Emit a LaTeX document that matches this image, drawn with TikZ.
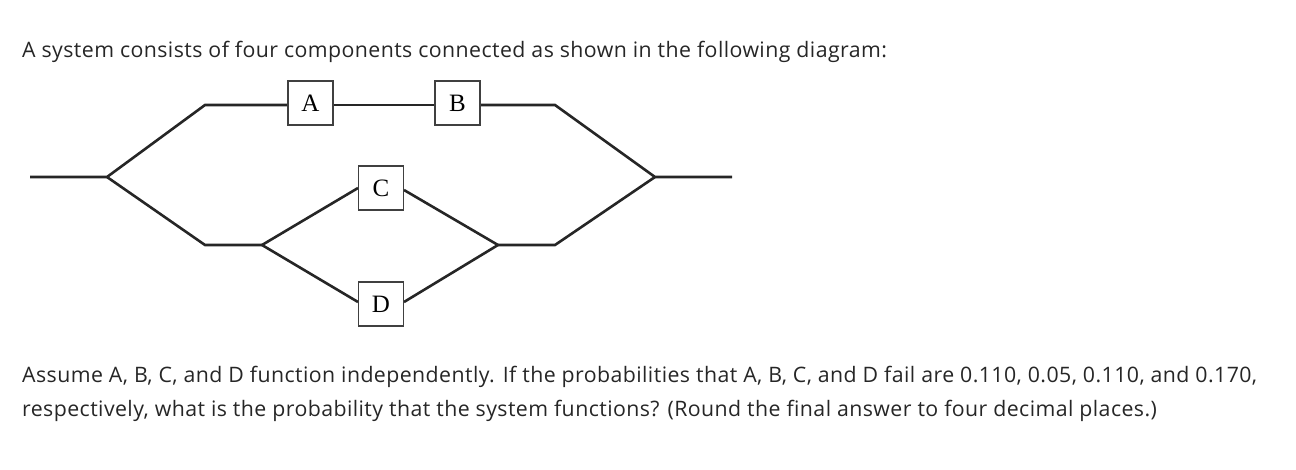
\documentclass[tikz,border=0pt]{standalone}
\usepackage{fontspec}
\setmainfont{Open Sans}[LetterSpace=2,Ligatures=NoCommon]
\newfontfamily\boxfont{Liberation Serif}
\begin{document}
\begin{tikzpicture}[x=1pt,y=-1pt,
  comp/.style={draw=black!75,line width=1.2pt,fill=white,minimum width=45pt,minimum height=44pt,inner sep=0pt,font=\boxfont\fontsize{25}{25}\selectfont},
  wire/.style={line width=2.6pt,black!85},
  txt/.style={anchor=west,inner sep=0pt,font=\fontsize{21.3}{26}\selectfont,text=black!85}]
\useasboundingbox (0,0) rectangle (1296,469);
\node[txt] (t1) at (22,52) {A system consists of four components connected as shown in the following diagram:};
\coordinate (L0) at (30,177);
\coordinate (L1) at (107,177);
\coordinate (U1) at (205,105);
\coordinate (U2) at (555,105);
\coordinate (R1) at (655,177);
\coordinate (R0) at (732,177);
\coordinate (D1) at (205,245);
\coordinate (J1) at (262,245);
\coordinate (J2) at (498,245);
\coordinate (D2) at (555,245);
\draw[wire] (L0)--(L1)--(U1)--(288,105);
\draw[wire] (333,105)--(435,105);
\draw[wire] (480,105)--(U2)--(R1)--(R0);
\draw[wire] (L1)--(D1)--(J1);
\draw[wire] (J2)--(D2)--(R1);
\draw[wire] (J1)--(358,188);
\draw[wire] (404,190)--(J2);
\draw[wire] (J1)--(358,302);
\draw[wire] (404,302)--(J2);
\node[comp] (A) at (310.5,103) {A};
\node[comp] (B) at (457.5,103) {B};
\node[comp] (C) at (381,188) {C};
\node[comp] (D) at (381,304) {D};
\node[txt] (t2) at (22,377) {Assume A, B, C, and D function independently. If the probabilities that A, B, C, and D fail are 0.110, 0.05, 0.110, and 0.170,};
\node[txt] (t3) at (22,411) {respectively, what is the probability that the system functions? (Round the final answer to four decimal places.)};
\end{tikzpicture}
\end{document}
